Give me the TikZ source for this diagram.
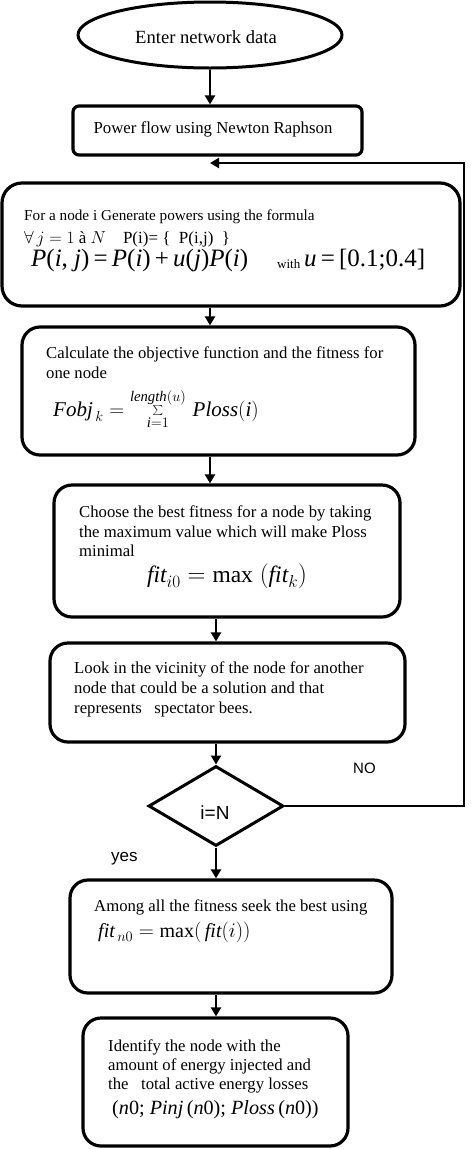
\documentclass[tikz,border=0pt]{standalone}
\usepackage{fontspec}
\setmainfont{Liberation Serif}
\setsansfont{Liberation Sans}
\usetikzlibrary{shapes.geometric,arrows.meta}
\begin{document}
\begin{tikzpicture}[x=1pt,y=-1pt,
  box/.style={draw, line width=3.2pt, rounded corners=18pt, inner sep=0pt},
  txt/.style={anchor=base west, inner sep=0pt, font=\fontsize{16.7}{19}\selectfont},
  lab/.style={anchor=base west, inner sep=0pt, font=\sffamily\fontsize{17}{19}\selectfont},
  arr/.style={line width=2.8pt, -{Triangle[length=9pt,width=10pt]}}]
\useasboundingbox (0,0) rectangle (474,1149);

% shapes
\node[draw, ellipse, line width=3pt, minimum width=264pt, minimum height=66pt, inner sep=0pt]
  (start) at (210,35) {};
\node[box, rounded corners=6pt, minimum width=289pt, minimum height=49pt] (pf) at (217.5,130.5) {};
\node[box, rounded corners=20pt, minimum width=458pt, minimum height=123pt] (b1) at (231,244.5) {};
\node[box, minimum width=393pt, minimum height=128pt] (b2) at (218.5,391) {};
\node[box, minimum width=346pt, minimum height=132pt] (b3) at (227,551) {};
\node[box, minimum width=355pt, minimum height=99pt] (b4) at (227.5,692.5) {};
\node[draw, diamond, line width=3pt, minimum width=135pt, minimum height=80pt, inner sep=0pt, aspect=1.7]
  (dia) at (216,806) {};
\node[box, minimum width=322pt, minimum height=113pt] (b5) at (231,936.5) {};
\node[box, minimum width=265pt, minimum height=128pt] (b6) at (215.5,1082) {};

% texts
\node[anchor=center, inner sep=0pt, font=\fontsize{18.6}{21}\selectfont] (tst) at (206,37) {Enter network data};
\node[anchor=center, inner sep=0pt, font=\fontsize{16.8}{19}\selectfont] (tpf) at (213,129) {Power flow using Newton Raphson};

\node[txt, font=\fontsize{15.2}{18}\selectfont] (t1a) at (24,220) {For a node i Generate powers using the formula};
\node[txt, font=\fontsize{17}{18}\selectfont] (t1b) at (24,243) {$\forall\, j = 1$ à $N$\ \ \ \ P(i)=\ \{\ \ P(i,j)\ \ \}};
\node[txt, font=\fontsize{25}{26}\selectfont] (t1c) at (31,266)
  {\textit{P}(\textit{i}, \textit{j})\,=\,\textit{P}(\textit{i})\,+\,\textit{u}(\textit{j})\textit{P}(\textit{i})};
\node[txt, font=\fontsize{13}{14}\selectfont] (t1d) at (277,268) {with};
\node[txt, font=\fontsize{25}{25}\selectfont] (t1e) at (304,266) {\textit{u}\,=\,[0.1;0.4]};

\node[txt] (t2a) at (46,358) {Calculate the objective function and the fitness for};
\node[txt] (t2b) at (46,378) {one node};
\node[txt, font=\fontsize{21}{21}\selectfont] (t2c) at (53,416)
  {$\mathit{Fobj}_{\,k} = \sum\limits_{\mathit{i}=1}^{\mathit{length}(u)}\, \mathit{Ploss}(\mathit{i})$};

\node[txt] (t3a) at (79,517) {Choose the best fitness for a node by taking};
\node[txt] (t3b) at (79,537) {the maximum value which will make Ploss};
\node[txt] (t3c) at (79,556) {minimal};
\node[anchor=base, inner sep=0pt, font=\fontsize{23.5}{24}\selectfont] (t3d) at (227,582)
  {$\mathit{fit}_{i0} = \mathrm{max}\;(\mathit{fit}_k)$};

\node[txt] (t4a) at (74,673) {Look in the vicinity of the node for another};
\node[txt] (t4b) at (74,693) {node that could be a solution and that};
\node[txt] (t4c) at (74,713) {represents\ \ \ spectator bees.};

\node[anchor=center, inner sep=0pt, font=\sffamily\fontsize{19}{20}\selectfont] (tdia) at (215,813) {i=N};
\node[lab, font=\sffamily\fontsize{15}{18}\selectfont] (no) at (353,773) {NO};
\node[lab] (yes) at (111,861) {yes};

\node[txt] (t5a) at (94,911) {Among all the fitness seek the best using};
\node[txt, font=\fontsize{20}{20}\selectfont] (t5b) at (98,937)
  {$\mathit{fit}_{\,n0} = \mathrm{max}(\,\mathit{fit}(i))$};

\node[txt] (t6a) at (108,1051) {Identify the node with the};
\node[txt] (t6b) at (108,1070) {amount of energy injected and};
\node[txt] (t6c) at (108,1089) {the\ \ \ total active energy losses};
\node[txt, font=\fontsize{20.2}{21}\selectfont] (t6d) at (112,1114)
  {(\textit{n}0; \textit{Pinj}\,(\textit{n}0); \textit{Ploss}\,(\textit{n}0))};

% connectors
\coordinate (xa) at (210,0);
\coordinate (xb) at (216,0);
\coordinate (fb) at (210,163);
\coordinate (xr) at (464,163);
\draw[arr] (start.south -| xa) -- (pf.north -| xa);
\draw[arr] (b1.south -| xa) -- (b2.north -| xa);
\draw[arr] (b2.south -| xa) -- (b3.north -| xa);
\draw[arr] (b3.south -| xb) -- (b4.north -| xb);
\draw[arr] (b4.south -| xb) -- (dia.north);
\draw[arr] (dia.south) -- (b5.north -| xb);
\draw[arr] (b5.south -| xb) -- (b6.north -| xb);
\draw[arr] (dia.east) -| (xr) -- (fb);
\end{tikzpicture}
\end{document}
